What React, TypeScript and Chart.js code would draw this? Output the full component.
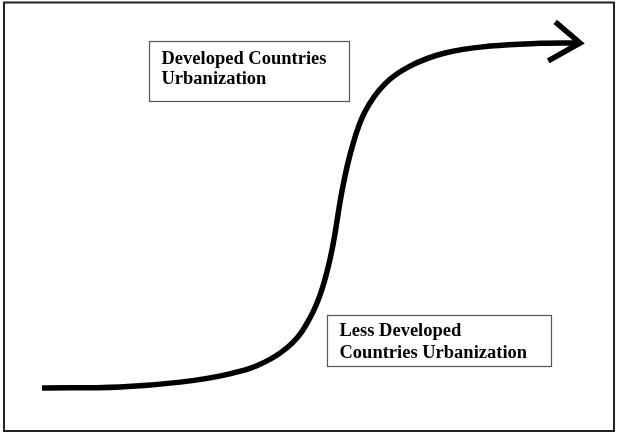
import React, { useEffect, useRef } from "react";
import { Chart, registerables } from "chart.js";

Chart.register(...registerables);

// Time (0-100) along the horizontal axis
const curveTime = [0, 14.5, 25.7, 34.9, 41.4, 46.5, 49.8, 52.0, 53.9, 55.8, 57.6, 60.0, 63.7, 68.4, 74.9, 83.3, 92.6, 100];
// Urbanization level (0-100)
const curveLevel = [0, 0.3, 1.7, 4.1, 7.5, 13.0, 20.3, 28.4, 40.0, 57.4, 69.6, 80.0, 88.1, 93.3, 97.1, 99.1, 99.9, 100];

// Arrow head (data units)
const arrowTime = [95.4, 100, 94.1];
const arrowLevel = [106.1, 100, 94.8];

const labelDeveloped = ["Developed Countries", "Urbanization"];
const labelLessDeveloped = ["Less Developed", "Countries Urbanization"];

export default function App() {
  const ref = useRef<HTMLCanvasElement | null>(null);

  useEffect(() => {
    const canvas = ref.current;
    if (!canvas) return;

    const boxes = [
      { x0: 19.9, x1: 57.1, y0: 100.7, y1: 83.2, lines: labelDeveloped, dx: 12, baselines: [22.3, 42.3] },
      { x0: 53.0, x1: 94.6, y0: 21.3, y1: 6.4, lines: labelLessDeveloped, dx: 12, baselines: [20.5, 42] },
    ];

    const decor = {
      id: "decor",
      beforeDraw(chart: any) {
        const ctx = chart.ctx;
        ctx.save();
        ctx.fillStyle = "#ffffff";
        ctx.fillRect(0, 0, chart.width, chart.height);
        ctx.restore();
      },
      afterDraw(chart: any) {
        const ctx = chart.ctx;
        const xs = chart.scales.x;
        const ys = chart.scales.y;
        ctx.save();
        // outer frame
        ctx.strokeStyle = "#222";
        ctx.lineWidth = 2;
        ctx.strokeRect(4, 2.5, 610, 428.5);
        // text boxes
        for (const b of boxes) {
          const l = Math.round(xs.getPixelForValue(b.x0)) + 0.5;
          const r = Math.round(xs.getPixelForValue(b.x1)) + 0.5;
          const t = Math.round(ys.getPixelForValue(b.y0)) + 0.5;
          const bt = Math.round(ys.getPixelForValue(b.y1)) + 0.5;
          ctx.strokeStyle = "#555";
          ctx.lineWidth = 1.2;
          ctx.strokeRect(l, t, r - l, bt - t);
          ctx.fillStyle = "#000";
          ctx.font = "bold 18.5px 'Liberation Serif', 'Times New Roman', serif";
          ctx.textBaseline = "alphabetic";
          ctx.textAlign = "left";
          b.lines.forEach((line, i) => {
            ctx.fillText(line, l + b.dx, t + b.baselines[i]);
          });
        }
        ctx.restore();
      },
    };

    const chart = new Chart(canvas, {
      type: "line",
      data: {
        datasets: [
          {
            data: curveTime.map((x, i) => ({ x, y: curveLevel[i] })),
            borderColor: "#000",
            borderWidth: 5.5,
            pointRadius: 0,
            tension: 0.4,
            borderCapStyle: "butt",
            clip: false,
          } as any,
          {
            data: arrowTime.map((x, i) => ({ x, y: arrowLevel[i] })),
            borderColor: "#000",
            borderWidth: 5.5,
            pointRadius: 0,
            tension: 0,
            borderCapStyle: "butt",
            borderJoinStyle: "miter",
            clip: false,
          } as any,
        ],
      },
      options: {
        animation: false,
        responsive: false,
        maintainAspectRatio: false,
        layout: { padding: 0 },
        plugins: { legend: { display: false }, tooltip: { enabled: false } },
        scales: {
          x: { type: "linear", min: -7.807, max: 107.249, display: false },
          y: { type: "linear", min: -13.623, max: 112.464, display: false },
        },
      },
      plugins: [decor],
    });

    return () => chart.destroy();
  }, []);

  return (
    <div style={{ position: "fixed", left: 0, top: 0, width: 619, height: 435, background: "#fff" }}>
      <canvas ref={ref} width={619} height={435} style={{ display: "block", width: 619, height: 435 }} />
    </div>
  );
}
